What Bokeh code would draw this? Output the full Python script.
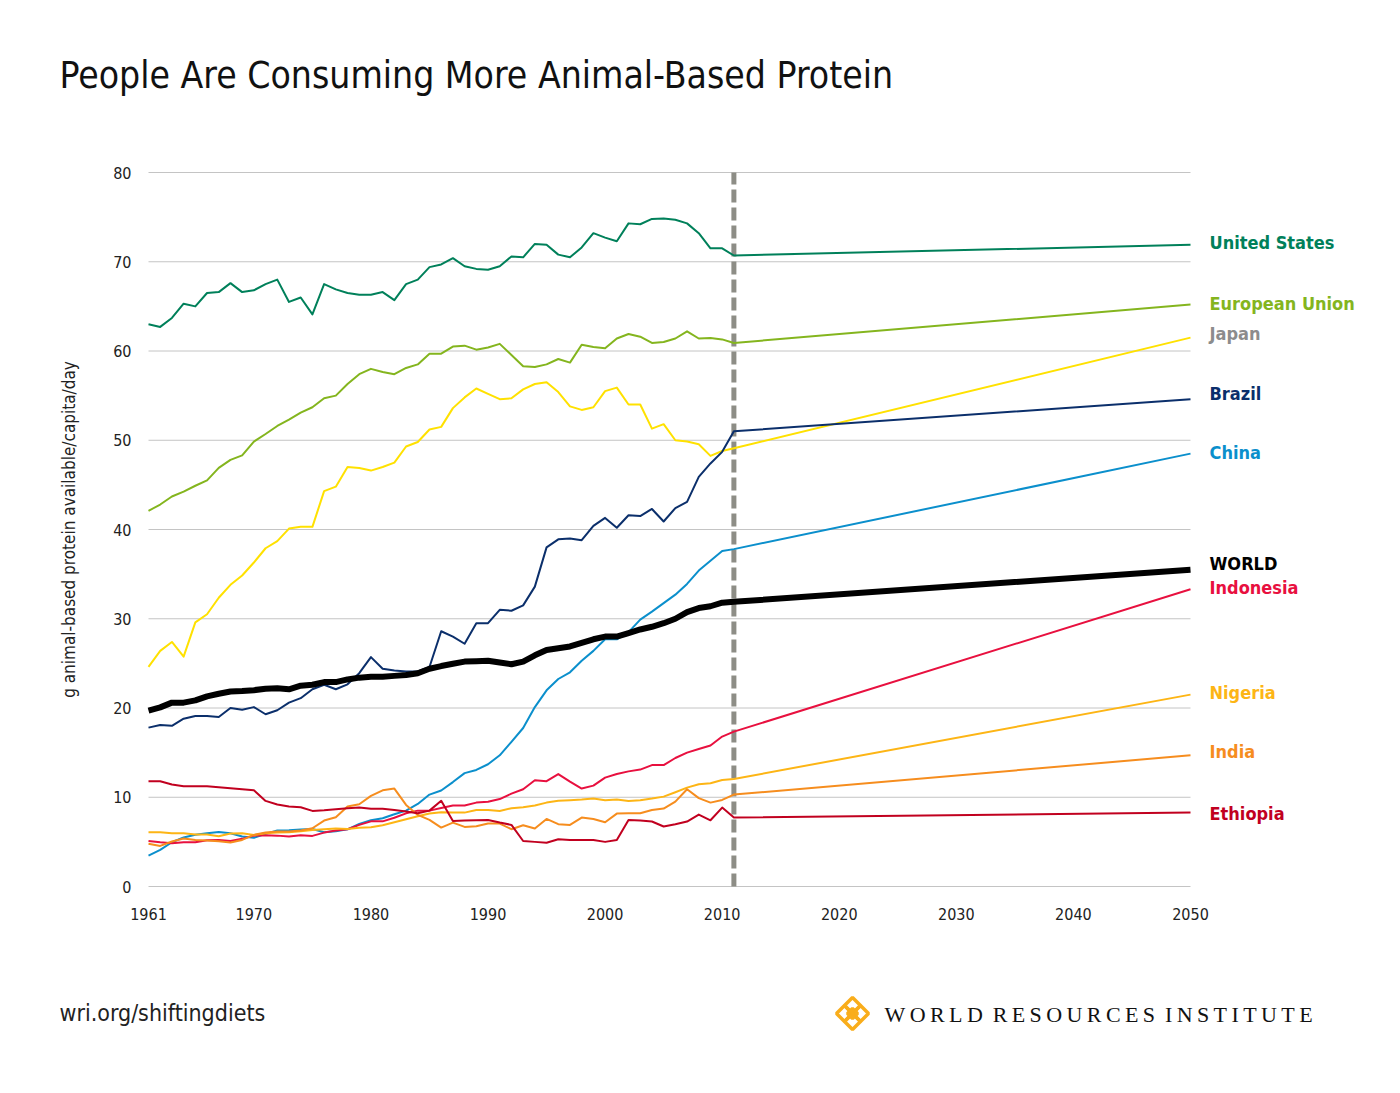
import math
from bokeh.plotting import figure
from bokeh.models import Range1d, FixedTicker, Label, PolyAnnotation
from bokeh.embed import file_html
from bokeh.resources import INLINE

# ---------------- data ----------------
hist_years = list(range(1961, 2012))
proj_year = 2050

united_states = [63.0, 62.7, 63.7, 65.3, 65.0, 66.5, 66.6, 67.6, 66.6, 66.8,
                 67.5, 68.0, 65.5, 66.0, 64.1, 67.5, 66.9, 66.5, 66.3, 66.3,
                 66.6, 65.7, 67.5, 68.0, 69.4, 69.7, 70.4, 69.5, 69.2, 69.1,
                 69.5, 70.6, 70.5, 72.0, 71.9, 70.8, 70.5, 71.6, 73.2, 72.7,
                 72.3, 74.3, 74.2, 74.8, 74.85, 74.7, 74.3, 73.2, 71.5, 71.5,
                 70.7]
european_union = [42.1, 42.8, 43.7, 44.25, 44.9, 45.5, 46.9, 47.8, 48.3, 49.85,
                  50.7, 51.6, 52.3, 53.1, 53.7, 54.7, 55.0, 56.3, 57.4, 58.0,
                  57.65, 57.4, 58.1, 58.5, 59.7, 59.7, 60.5, 60.6, 60.15, 60.4,
                  60.8, 59.55, 58.3, 58.2, 58.5, 59.1, 58.7, 60.7, 60.45, 60.3,
                  61.4, 61.9, 61.6, 60.9, 61.0, 61.4, 62.2, 61.4, 61.45, 61.3,
                  60.9]
japan = [24.6, 26.4, 27.4, 25.75, 29.6, 30.5, 32.35, 33.8, 34.85, 36.3,
         37.9, 38.7, 40.1, 40.3, 40.3, 44.3, 44.8, 47.0, 46.9, 46.6,
         47.0, 47.5, 49.3, 49.8, 51.2, 51.5, 53.6, 54.8, 55.8, 55.2,
         54.6, 54.7, 55.7, 56.3, 56.5, 55.4, 53.8, 53.4, 53.7, 55.5,
         55.9, 54.0, 54.0, 51.3, 51.8, 50.0, 49.85, 49.55, 48.25, 48.8,
         49.1]
brazil = [17.8, 18.1, 18.0, 18.8, 19.1, 19.1, 19.0, 20.0, 19.8, 20.1,
          19.3, 19.75, 20.6, 21.1, 22.1, 22.6, 22.1, 22.65, 23.9, 25.7,
          24.4, 24.2, 24.1, 24.1, 24.6, 28.6, 28.0, 27.2, 29.5, 29.5,
          31.0, 30.9, 31.5, 33.6, 38.0, 38.9, 39.0, 38.8, 40.4, 41.3,
          40.2, 41.6, 41.5, 42.3, 40.9, 42.4, 43.1, 45.9, 47.4, 48.7,
          51.0]
china = [3.47, 4.1, 4.96, 5.5, 5.8, 5.97, 6.1, 5.97, 5.6, 5.45,
         5.9, 6.27, 6.3, 6.38, 6.45, 6.08, 6.2, 6.4, 7.0, 7.43,
         7.65, 8.1, 8.5, 9.25, 10.3, 10.75, 11.7, 12.7, 13.06, 13.7,
         14.7, 16.2, 17.76, 20.1, 21.98, 23.25, 24.0, 25.3, 26.4, 27.7,
         27.7, 28.5, 29.9, 30.8, 31.75, 32.7, 33.9, 35.4, 36.5, 37.6,
         37.8]
world = [19.7, 20.07, 20.6, 20.6, 20.85, 21.3, 21.6, 21.85, 21.9, 22.0,
         22.15, 22.2, 22.1, 22.5, 22.6, 22.9, 22.9, 23.2, 23.4, 23.5,
         23.5, 23.6, 23.7, 23.9, 24.4, 24.7, 24.96, 25.2, 25.25, 25.3,
         25.1, 24.9, 25.2, 25.9, 26.5, 26.7, 26.9, 27.3, 27.7, 28.0,
         28.0, 28.4, 28.8, 29.1, 29.5, 30.0, 30.75, 31.2, 31.4, 31.8,
         31.9]
indonesia = [5.11, 4.96, 4.85, 4.96, 4.96, 5.19, 5.22, 5.11, 5.34, 5.7,
             5.75, 5.7, 5.6, 5.75, 5.67, 6.04, 6.27, 6.42, 6.9, 7.3,
             7.3, 7.7, 8.2, 8.5, 8.5, 8.8, 9.07, 9.07, 9.4, 9.5,
             9.8, 10.4, 10.9, 11.9, 11.8, 12.6, 11.75, 10.97, 11.3, 12.2,
             12.6, 12.9, 13.1, 13.6, 13.6, 14.4, 15.0, 15.4, 15.8, 16.8,
             17.35]
nigeria = [6.08, 6.08, 5.97, 5.97, 5.82, 5.82, 5.63, 5.93, 5.97, 5.78,
           5.97, 6.04, 6.08, 6.19, 6.34, 6.42, 6.49, 6.45, 6.57, 6.64,
           6.87, 7.2, 7.54, 7.87, 8.17, 8.32, 8.28, 8.28, 8.58, 8.58,
           8.47, 8.77, 8.88, 9.07, 9.4, 9.6, 9.66, 9.74, 9.85, 9.66,
           9.74, 9.59, 9.66, 9.85, 10.07, 10.56, 11.08, 11.46, 11.57, 11.94,
           12.05]
india = [4.78, 4.55, 5.04, 5.37, 5.22, 5.15, 5.07, 4.93, 5.22, 5.78,
         6.04, 6.16, 6.16, 6.27, 6.53, 7.39, 7.76, 8.96, 9.22, 10.15,
         10.78, 10.97, 9.14, 8.02, 7.46, 6.6, 7.16, 6.68, 6.75, 7.05,
         7.05, 6.42, 6.87, 6.49, 7.57, 6.98, 6.9, 7.72, 7.57, 7.2,
         8.17, 8.21, 8.21, 8.58, 8.73, 9.51, 10.9, 9.9, 9.4, 9.7,
         10.3]
ethiopia = [11.79, 11.79, 11.42, 11.23, 11.23, 11.23, 11.12, 11.0, 10.9, 10.78,
            9.59, 9.18, 8.96, 8.88, 8.47, 8.54, 8.66, 8.77, 8.84, 8.7,
            8.7, 8.58, 8.4, 8.2, 8.5, 9.6, 7.35, 7.39, 7.42, 7.46,
            7.16, 6.9, 5.1, 5.0, 4.9, 5.3, 5.2, 5.2, 5.2, 5.0,
            5.2, 7.46, 7.39, 7.28, 6.72, 6.98, 7.28, 8.06, 7.42, 8.84,
            7.72]

series_names = ["United States", "European Union", "Japan", "Brazil", "China",
                "Indonesia", "Nigeria", "India", "Ethiopia", "WORLD"]
series_hist = [united_states, european_union, japan, brazil, china,
               indonesia, nigeria, india, ethiopia, world]
projection_2050 = [71.9, 65.2, 61.5, 54.6, 48.5, 33.3, 21.5, 14.7, 8.3, 35.5]

x_ticks = [1961, 1970, 1980, 1990, 2000, 2010, 2020, 2030, 2040, 2050]
y_ticks = [0, 10, 20, 30, 40, 50, 60, 70, 80]

# ---------------- styles ----------------
line_colors = {"United States": "#00805a", "European Union": "#84b51e", "Japan": "#ffe100",
               "Brazil": "#0b2f6b", "China": "#0b8fcc", "Indonesia": "#e8103f",
               "Nigeria": "#fdb515", "India": "#f68d1e", "Ethiopia": "#c1001f", "WORLD": "#000000"}
label_colors = dict(line_colors)
label_colors["Japan"] = "#8c8c8c"
label_offsets = {"United States": 0.25, "European Union": 0.1, "Japan": 0.45, "Brazil": 0.65,
                 "China": 0.1, "Indonesia": 0.2, "Nigeria": 0.25, "India": 0.4,
                 "Ethiopia": -0.1, "WORLD": 0.7}

W, H = 1400, 1093
FL, FR, FT, FB = 148, 1190, 172, 886          # plot area in page pixels
X0, X1, Y0, Y1 = 1961, 2050, 0, 80
SX = (FR - FL) / (X1 - X0)
SY = (FB - FT) / (Y1 - Y0)
COND = "DejaVu Sans Condensed"


def px2x(px):
    return X0 + (px - FL) / SX


def px2y(py):
    return Y0 + (FB - py) / SY


p = figure(width=W, height=H,
           x_range=Range1d(px2x(0), px2x(W)), y_range=Range1d(px2y(H), px2y(0)),
           output_backend="svg", toolbar_location=None,
           min_border=0, outline_line_color=None,
           background_fill_color="white", border_fill_color="white")

p.xaxis.fixed_location = Y0
p.yaxis.fixed_location = X0
for ax in (p.xaxis[0], p.yaxis[0]):
    ax.axis_line_color = None
    ax.major_tick_line_color = None
    ax.minor_tick_line_color = None
    ax.major_tick_out = 0
    ax.major_tick_in = 0
    ax.major_label_text_font = COND
    ax.major_label_text_font_size = "16px"
    ax.major_label_text_color = "#222222"
p.xaxis.ticker = FixedTicker(ticks=x_ticks)
p.yaxis.ticker = FixedTicker(ticks=y_ticks)
p.xaxis.major_label_standoff = 21
p.yaxis.major_label_standoff = 17
p.xgrid.grid_line_color = None
p.ygrid.grid_line_color = None

# horizontal gridlines limited to the plot area
p.segment(x0=[X0] * len(y_ticks), x1=[X1] * len(y_ticks), y0=y_ticks, y1=y_ticks,
          line_color="#c4c4c4", line_width=1)

# projection divider
p.segment(x0=[hist_years[-1]], x1=[hist_years[-1]], y0=[Y0], y1=[Y1],
          line_color="#8d8d86", line_width=5, line_dash="13 5")

for name, vals, end in zip(series_names, series_hist, projection_2050):
    lw = 6 if name == "WORLD" else 2
    p.line(hist_years + [proj_year], vals + [end], line_color=line_colors[name],
           line_width=lw, line_join="round")
    p.add_layout(Label(x=proj_year, y=end + label_offsets[name], x_offset=19, text=name,
                       text_font=COND, text_font_style="bold", text_font_size="18px",
                       text_color=label_colors[name], text_baseline="middle", text_align="left"))

# title
p.add_layout(Label(x=px2x(59), y=px2y(75), text="People Are Consuming More Animal-Based Protein",
                   text_font=COND, text_font_size="37px", text_color="#111111",
                   text_baseline="middle", text_align="left"))
# y axis title
p.add_layout(Label(x=px2x(68), y=px2y(529), text="g animal-based protein available/capita/day",
                   text_font=COND, text_font_size="17px", text_color="#222222", angle=math.pi / 2,
                   text_baseline="middle", text_align="center"))
# footer
p.add_layout(Label(x=px2x(59), y=px2y(1012), text="wri.org/shiftingdiets",
                   text_font=COND, text_font_size="23px", text_color="#222222",
                   text_baseline="middle", text_align="left"))

# WRI logo (woven diamonds)
logo_color = "#f9ad1b"
cx, cy = 852, 1013
for ox, oy, r in [(-8, 0, 8), (8, 0, 8), (0, -8, 8), (0, 8, 8), (0, 0, 5)]:
    xs = [px2x(cx + ox), px2x(cx + ox + r), px2x(cx + ox), px2x(cx + ox - r)]
    ys = [px2y(cy + oy - r), px2y(cy + oy), px2y(cy + oy + r), px2y(cy + oy)]
    p.add_layout(PolyAnnotation(xs=xs, ys=ys, fill_alpha=0, line_color=logo_color,
                                line_alpha=1.0, line_width=3.5))

ts = "\u2009"
wri = "\u00a0\u2009".join(ts.join(list(w)) for w in ["WORLD", "RESOURCES", "INSTITUTE"])
p.add_layout(Label(x=px2x(884), y=px2y(1014), text=wri, text_font="Liberation Serif",
                   text_font_size="22px", text_color="#111111",
                   text_baseline="middle", text_align="left"))

open("out.html", "w").write(file_html(p, INLINE))
